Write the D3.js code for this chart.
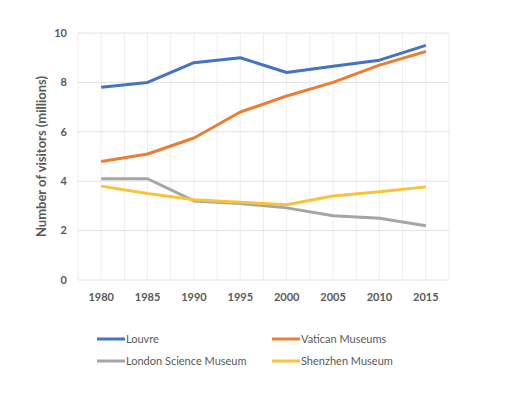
<!DOCTYPE html>
<html>
<head>
<meta charset="utf-8">
<script src="https://cdn.jsdelivr.net/npm/d3@7"></script>
<style>
  body { margin: 0; background: #fff; }
  text { font-family: Lato, "Open Sans", sans-serif; }
</style>
</head>
<body>
<div id="chart"></div>
<script>
// Data
const years = ["1980", "1985", "1990", "1995", "2000", "2005", "2010", "2015"];
const louvre = [7.8, 8.0, 8.8, 9.0, 8.4, 8.65, 8.9, 9.5];
const vatican = [4.8, 5.1, 5.75, 6.8, 7.45, 8.0, 8.7, 9.25];
const londonScience = [4.1, 4.1, 3.2, 3.1, 2.92, 2.6, 2.5, 2.2];
const shenzhen = [3.8, 3.5, 3.25, 3.15, 3.05, 3.4, 3.57, 3.77];
const yTicks = [0, 2, 4, 6, 8, 10];

const series = [
    { name: "Louvre", values: louvre, color: "#4472C4" },
    { name: "Vatican Museums", values: vatican, color: "#ED7D31" },
    { name: "London Science Museum", values: londonScience, color: "#A5A5A5" },
    { name: "Shenzhen Museum", values: shenzhen, color: "#F8C33A" }
];

const width = 512, height = 411;
const margin = { top: 33, right: 63, bottom: 131, left: 78 };

const svg = d3.select("#chart")
    .append("svg")
    .attr("width", width)
    .attr("height", height);

// Scales
const x = d3.scaleBand()
    .domain(years)
    .range([margin.left, width - margin.right]);

const y = d3.scaleLinear()
    .domain([0, 10])
    .range([height - margin.bottom, margin.top]);

const cx = d => x(d) + x.bandwidth() / 2;

// Vertical gridlines (category centres and band edges)
const vLines = [];
years.forEach(yr => { vLines.push(x(yr)); vLines.push(cx(yr)); });
vLines.push(width - margin.right);
svg.append("g")
    .selectAll("line")
    .data(vLines)
    .enter()
    .append("line")
    .attr("x1", d => d).attr("x2", d => d)
    .attr("y1", y(10)).attr("y2", y(0))
    .attr("stroke", "#eeeeee")
    .attr("stroke-width", 1);

// Horizontal gridlines
svg.append("g")
    .selectAll("line")
    .data(yTicks)
    .enter()
    .append("line")
    .attr("x1", margin.left).attr("x2", width - margin.right)
    .attr("y1", d => y(d)).attr("y2", d => y(d))
    .attr("stroke", "#e2e2e2")
    .attr("stroke-width", 1);

// Y tick labels
svg.append("g")
    .selectAll("text")
    .data(yTicks)
    .enter()
    .append("text")
    .attr("x", margin.left - 11)
    .attr("y", d => y(d))
    .attr("dy", "0.35em")
    .attr("text-anchor", "end")
    .attr("font-size", 11)
    .attr("font-weight", "bold")
    .attr("fill", "#595959")
    .text(d => d);

// X tick labels
svg.append("g")
    .selectAll("text")
    .data(years)
    .enter()
    .append("text")
    .attr("x", d => cx(d))
    .attr("y", y(0) + 17)
    .attr("dy", "0.35em")
    .attr("text-anchor", "middle")
    .attr("font-size", 11)
    .attr("font-weight", "bold")
    .attr("fill", "#595959")
    .text(d => d);

// Axis title
svg.append("text")
    .attr("transform", `translate(41, ${(y(0) + y(10)) / 2}) rotate(-90)`)
    .attr("text-anchor", "middle")
    .attr("dy", "0.35em")
    .attr("font-size", 13)
    .attr("font-weight", "bold")
    .attr("fill", "#595959")
    .text("Number of visitors (millions)");

// Lines
const line = d3.line()
    .x((d, i) => cx(years[i]))
    .y(d => y(d));

svg.append("g")
    .selectAll("path")
    .data(series)
    .enter()
    .append("path")
    .attr("fill", "none")
    .attr("stroke", d => d.color)
    .attr("stroke-width", 3)
    .attr("stroke-linejoin", "round")
    .attr("d", d => line(d.values));

// Legend
const legendPos = [[97, 339], [272, 339], [97, 361], [272, 361]];
const legend = svg.append("g")
    .selectAll("g")
    .data(series)
    .enter()
    .append("g")
    .attr("transform", (d, i) => `translate(${legendPos[i][0]}, ${legendPos[i][1]})`);

legend.append("line")
    .attr("x1", 0).attr("x2", 28)
    .attr("stroke", d => d.color)
    .attr("stroke-width", 3);

legend.append("text")
    .attr("x", 29)
    .attr("dy", "0.35em")
    .attr("font-size", 11)
    .attr("fill", "#595959")
    .text(d => d.name);
</script>
</body>
</html>
